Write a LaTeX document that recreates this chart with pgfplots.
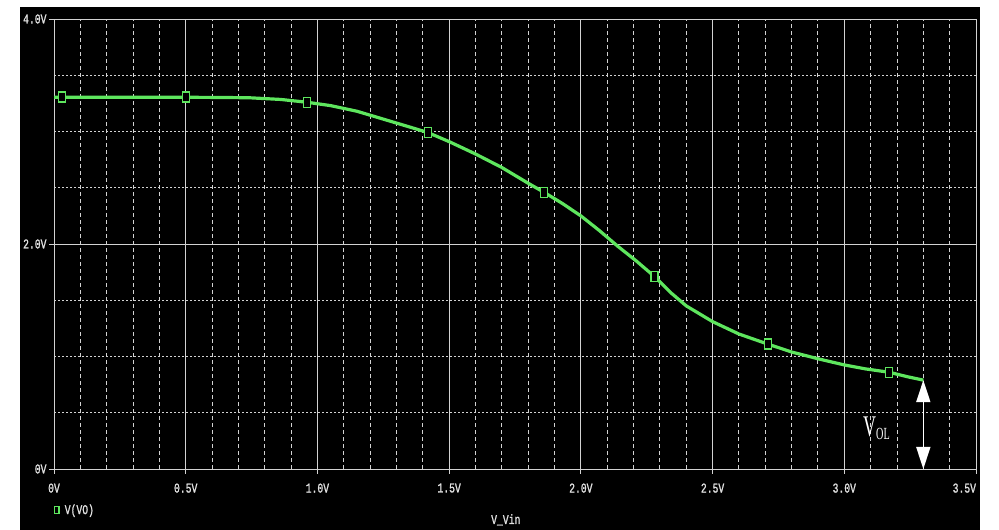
\documentclass[border=0pt]{standalone}
\usepackage{pgfplots}
\pgfplotsset{compat=1.18}
\usepackage{fontspec}
\usetikzlibrary{arrows.meta}
\newfontfamily\pfont{Liberation Mono}[FakeStretch=0.72,FakeBold=1.2]
\newfontfamily\sfont{Liberation Serif}
\definecolor{trace}{HTML}{5EE65E}
\definecolor{gridc}{HTML}{D2D2D2}
\definecolor{labc}{HTML}{E2E2E2}
\newcommand{\pf}{\pfont\fontsize{13.5}{13.5}\selectfont}

\begin{document}
\begin{tikzpicture}[x=1pt,y=1pt]
\useasboundingbox (0,0) rectangle (999,530);
\clip (0,0) rectangle (999,530);
\fill[white] (0,0) rectangle (999,530);
\fill[black] (20,0) rectangle (980,523);
\begin{axis}[
  at={(54pt,61pt)}, anchor=south west,
  scale only axis, width=922pt, height=450pt,
  xmin=0, xmax=3.5, ymin=0, ymax=4,
  xtick={0,0.5,1,1.5,2,2.5,3,3.5},
  xticklabels={0V,0.5V,1.0V,1.5V,2.0V,2.5V,3.0V,\llap{3.5V}},
  ytick={0,2,4},
  yticklabels={0V,2.0V,4.0V},
  minor x tick num=4,
  minor ytick={0.5,1,1.5,2.5,3,3.5},
  tick pos=left, tick align=outside,
  major tick length=5pt, minor tick length=0pt,
  axis line style={gridc, line width=0.9pt},
  tick style={gridc, line width=0.9pt},
  grid=both,
  major grid style={gridc, solid, line width=0.9pt},
  minor x grid style={gridc, dash pattern=on 3.5pt off 3.5pt, line width=0.9pt},
  minor y grid style={gridc, dash pattern=on 2pt off 2pt, line width=0.9pt},
  tick label style={font=\pf, text=labc},
  xticklabel style={yshift=-6pt},
  yticklabel style={xshift=1pt},
  xlabel={V\_Vin},
  xlabel style={at={(axis description cs:0.49,0)}, anchor=north, yshift=-44pt,
    font=\pf, text=labc, inner sep=1pt},
  legend style={at={(0,0)}, anchor=west, yshift=-41pt, draw=none, fill=none,
    text=labc, font=\pf, inner sep=0pt, cells={anchor=west}},
  legend image code/.code={\draw[mark repeat=1,#1,mark size=3.4pt] plot coordinates {(4pt,0pt)};
    \path (10pt,0pt);},
]
% transfer curve
\addplot[trace, line width=3.2pt, forget plot] coordinates {
 (0,3.305) (0.2,3.305) (0.4,3.305) (0.6,3.303) (0.74,3.30) (0.86,3.285)
 (0.96,3.26) (1.05,3.23) (1.15,3.18) (1.25,3.11) (1.35,3.04) (1.42,2.99)
 (1.50,2.91) (1.60,2.80) (1.70,2.68) (1.80,2.54) (1.86,2.46) (1.93,2.36)
 (2.0,2.25) (2.07,2.12) (2.14,1.98) (2.21,1.85) (2.28,1.71) (2.34,1.57)
 (2.40,1.45) (2.45,1.38) (2.5,1.31) (2.6,1.20) (2.71,1.11) (2.8,1.04)
 (2.9,0.98) (3.0,0.925) (3.08,0.89) (3.17,0.86) (3.24,0.82) (3.30,0.79)};
% sample markers
\addplot[only marks, mark=square*, mark size=5pt,
  mark options={xscale=0.7, fill=black, draw=trace, line width=1.4pt, solid}]
  coordinates {(0.03,3.305) (0.5,3.305) (0.96,3.26) (1.42,2.99)
   (1.86,2.46) (2.28,1.71) (2.71,1.11) (3.17,0.86)};
\addlegendentry{V(VO)}
% VOL annotation
\draw[white, line width=1.5pt,
  {Triangle[width=14pt,length=22pt]}-{Triangle[width=14pt,length=22pt]}]
  (axis cs:3.30,0.79) -- (axis cs:3.30,0);
\node[white, anchor=base west, inner sep=0pt] at (axis cs:3.071,0.293)
  {\sfont\scalebox{0.6}[1]{\fontsize{30}{30}\selectfont V\raisebox{-0.25ex}{\fontsize{17}{17}\selectfont OL}}};
\end{axis}
\end{tikzpicture}
\end{document}
